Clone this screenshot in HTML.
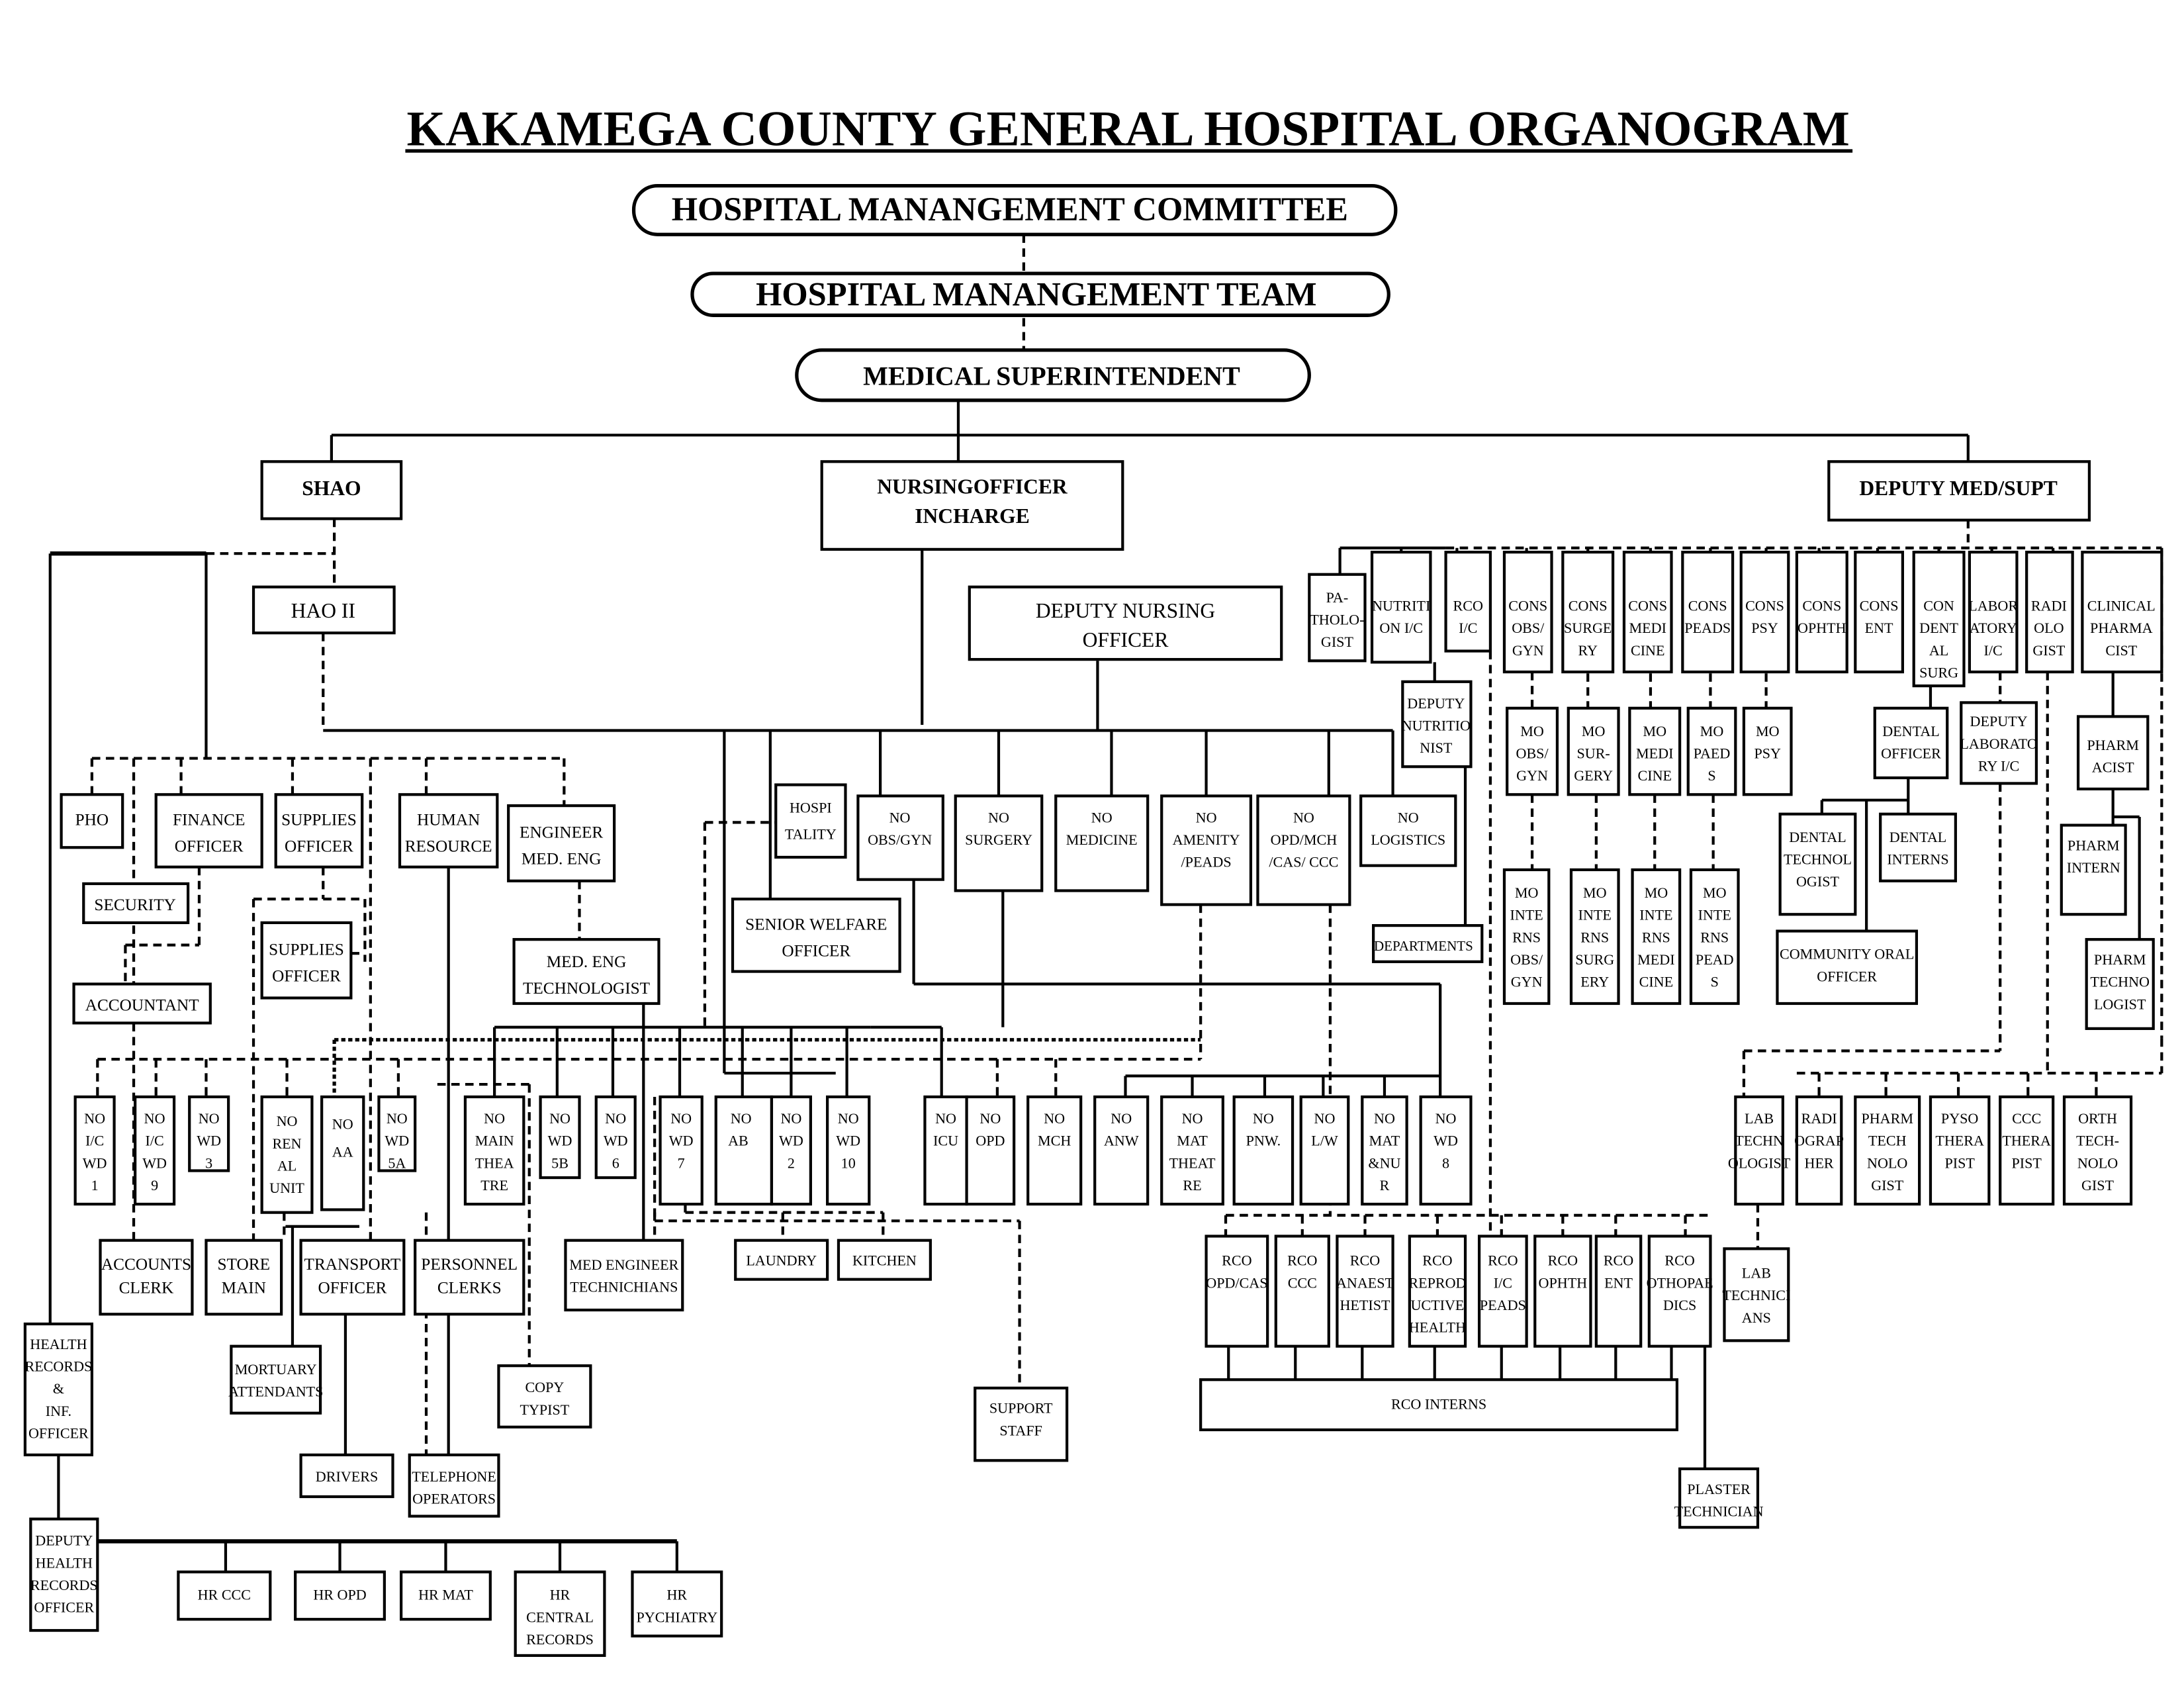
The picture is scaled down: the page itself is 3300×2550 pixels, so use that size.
<!DOCTYPE html>
<html><head><meta charset="utf-8"><style>
html,body{margin:0;padding:0;background:#fff;}
svg{display:block;}
text{font-family:"Liberation Serif",serif;fill:#000;}
.b rect{fill:#fff;stroke:#000;stroke-width:2;}
.b text{text-anchor:middle;}
.s{stroke:#000;stroke-width:2;fill:none;}
.d{stroke:#000;stroke-width:2;fill:none;stroke-dasharray:6,4;}
.t{stroke:#000;stroke-width:2.5;fill:none;stroke-dasharray:3,2;}
</style></head><body>
<svg width="3300" height="2550" viewBox="0 0 1568 1211" xmlns="http://www.w3.org/2000/svg">
<rect width="1568" height="1211" fill="#fff"/>
<text x="810" y="104" font-size="35.5" font-weight="bold" text-anchor="middle" textLength="1036" lengthAdjust="spacingAndGlyphs">KAKAMEGA COUNTY GENERAL HOSPITAL ORGANOGRAM</text>
<line x1="291" y1="108" x2="1330" y2="108" stroke="#000" stroke-width="2.5"/>

<!-- connectors -->
<g class="d"><line x1="735" y1="168" x2="735" y2="251"/></g>
<g class="s">
<line x1="688" y1="287" x2="688" y2="312"/>
<line x1="238" y1="312" x2="1413" y2="312"/>
<line x1="238" y1="312" x2="238" y2="331"/>
<line x1="688" y1="312" x2="688" y2="331"/>
<line x1="1413" y1="312" x2="1413" y2="331"/>
<line x1="36" y1="397" x2="148" y2="397" stroke-width="3"/>
<line x1="36" y1="397" x2="36" y2="950"/>
<line x1="148" y1="397" x2="148" y2="544"/>
<line x1="662" y1="394" x2="662" y2="520"/>
<line x1="788" y1="474" x2="788" y2="524"/>
<line x1="232" y1="524" x2="1000" y2="524"/>
<line x1="520" y1="524" x2="520" y2="770"/>
<line x1="553" y1="524" x2="553" y2="645"/>
<line x1="632" y1="524" x2="632" y2="571"/>
<line x1="717" y1="524" x2="717" y2="571"/>
<line x1="798" y1="524" x2="798" y2="571"/>
<line x1="866" y1="524" x2="866" y2="571"/>
<line x1="954" y1="524" x2="954" y2="571"/>
<line x1="1000" y1="524" x2="1000" y2="571"/>
<line x1="1052" y1="550" x2="1052" y2="664"/>
<line x1="1030" y1="475" x2="1030" y2="489"/>
<line x1="322" y1="622" x2="322" y2="890"/>
<line x1="462" y1="720" x2="462" y2="890"/>
<line x1="355" y1="737" x2="625" y2="737"/>
<line x1="355" y1="737" x2="355" y2="787"/>
<line x1="400" y1="737" x2="400" y2="787"/>
<line x1="440" y1="737" x2="440" y2="787"/>
<line x1="488" y1="737" x2="488" y2="787"/>
<line x1="533" y1="737" x2="533" y2="787"/>
<line x1="568" y1="737" x2="568" y2="787"/>
<line x1="608" y1="737" x2="608" y2="787"/>
<line x1="676" y1="737" x2="676" y2="787"/>
<line x1="625" y1="737" x2="676" y2="737"/>
<line x1="720" y1="639" x2="720" y2="737"/>
<line x1="520" y1="770" x2="600" y2="770"/>
<line x1="656" y1="631" x2="656" y2="706"/>
<line x1="656" y1="706" x2="1034" y2="706"/>
<line x1="1034" y1="706" x2="1034" y2="787"/>
<line x1="808" y1="772" x2="1034" y2="772"/>
<line x1="808" y1="772" x2="808" y2="787"/>
<line x1="856" y1="772" x2="856" y2="787"/>
<line x1="908" y1="772" x2="908" y2="787"/>
<line x1="950" y1="772" x2="950" y2="787"/>
<line x1="994" y1="772" x2="994" y2="787"/>
<line x1="962" y1="393" x2="1038" y2="393"/>
<line x1="962" y1="393" x2="962" y2="412"/>
<line x1="1006" y1="393" x2="1006" y2="396"/>
<line x1="1046" y1="393" x2="1046" y2="396"/>
<line x1="1096" y1="393" x2="1096" y2="396"/>
<line x1="1386" y1="482" x2="1386" y2="508"/>
<line x1="1370" y1="558" x2="1370" y2="574"/>
<line x1="1308" y1="574" x2="1370" y2="574"/>
<line x1="1308" y1="574" x2="1308" y2="584"/>
<line x1="1340" y1="574" x2="1340" y2="668"/>
<line x1="1370" y1="574" x2="1370" y2="584"/>
<line x1="1517" y1="482" x2="1517" y2="514"/>
<line x1="1517" y1="566" x2="1517" y2="592"/>
<line x1="1517" y1="586" x2="1536" y2="586"/>
<line x1="1536" y1="586" x2="1536" y2="674"/>
<line x1="1224" y1="966" x2="1224" y2="1054"/>
<line x1="882" y1="966" x2="882" y2="990"/>
<line x1="930" y1="966" x2="930" y2="990"/>
<line x1="978" y1="966" x2="978" y2="990"/>
<line x1="1030" y1="966" x2="1030" y2="990"/>
<line x1="1078" y1="966" x2="1078" y2="990"/>
<line x1="1120" y1="966" x2="1120" y2="990"/>
<line x1="1160" y1="966" x2="1160" y2="990"/>
<line x1="1200" y1="966" x2="1200" y2="990"/>
<line x1="42" y1="1044" x2="42" y2="1090"/>
<line x1="70" y1="1106" x2="486" y2="1106" stroke-width="3"/>
<line x1="162" y1="1106" x2="162" y2="1128"/>
<line x1="244" y1="1106" x2="244" y2="1128"/>
<line x1="320" y1="1106" x2="320" y2="1128"/>
<line x1="402" y1="1106" x2="402" y2="1128"/>
<line x1="486" y1="1106" x2="486" y2="1128"/>
<line x1="210" y1="880" x2="210" y2="966"/>
<line x1="248" y1="943" x2="248" y2="1044"/>
<line x1="322" y1="943" x2="322" y2="1044"/>
<line x1="205" y1="880" x2="258" y2="880"/>
</g>
<g class="d">
<line x1="240" y1="372" x2="240" y2="421"/>
<line x1="148" y1="397" x2="240" y2="397"/>
<line x1="232" y1="454" x2="232" y2="524"/>
<line x1="66" y1="544" x2="405" y2="544"/>
<line x1="66" y1="544" x2="66" y2="570"/>
<line x1="96" y1="544" x2="96" y2="890"/>
<line x1="130" y1="544" x2="130" y2="570"/>
<line x1="210" y1="544" x2="210" y2="570"/>
<line x1="266" y1="544" x2="266" y2="890"/>
<line x1="306" y1="544" x2="306" y2="570"/>
<line x1="405" y1="544" x2="405" y2="578"/>
<line x1="232" y1="622" x2="232" y2="645"/>
<line x1="182" y1="645" x2="262" y2="645"/>
<line x1="262" y1="645" x2="262" y2="690"/>
<line x1="252" y1="684" x2="262" y2="684"/>
<line x1="182" y1="645" x2="182" y2="890"/>
<line x1="143" y1="622" x2="143" y2="678"/>
<line x1="90" y1="678" x2="143" y2="678"/>
<line x1="90" y1="678" x2="90" y2="706"/>
<line x1="416" y1="632" x2="416" y2="674"/>
<line x1="1413" y1="373" x2="1413" y2="393"/>
<line x1="1038" y1="393" x2="1552" y2="393"/>
<line x1="1552" y1="393" x2="1552" y2="745"/>
<line x1="1070" y1="467" x2="1070" y2="887"/>
<line x1="1100" y1="482" x2="1100" y2="508"/>
<line x1="1140" y1="393" x2="1140" y2="508"/>
<line x1="1185" y1="393" x2="1185" y2="508"/>
<line x1="1228" y1="393" x2="1228" y2="508"/>
<line x1="1268" y1="393" x2="1268" y2="508"/>
<line x1="1306" y1="393" x2="1306" y2="396"/>
<line x1="1348" y1="393" x2="1348" y2="396"/>
<line x1="1392" y1="393" x2="1392" y2="396"/>
<line x1="1430" y1="393" x2="1430" y2="396"/>
<line x1="1474" y1="393" x2="1474" y2="396"/>
<line x1="1100" y1="570" x2="1100" y2="624"/>
<line x1="1146" y1="570" x2="1146" y2="624"/>
<line x1="1188" y1="570" x2="1188" y2="624"/>
<line x1="1230" y1="570" x2="1230" y2="624"/>
<line x1="1436" y1="482" x2="1436" y2="504"/>
<line x1="1436" y1="562" x2="1436" y2="754"/>
<line x1="1470" y1="482" x2="1470" y2="770"/>
<line x1="1252" y1="754" x2="1436" y2="754"/>
<line x1="1252" y1="754" x2="1252" y2="787"/>
<line x1="1290" y1="770" x2="1552" y2="770"/>
<line x1="1552" y1="745" x2="1552" y2="770"/>
<line x1="1306" y1="770" x2="1306" y2="787"/>
<line x1="1354" y1="770" x2="1354" y2="787"/>
<line x1="1406" y1="770" x2="1406" y2="787"/>
<line x1="1456" y1="770" x2="1456" y2="787"/>
<line x1="1505" y1="770" x2="1505" y2="787"/>
<line x1="1262" y1="864" x2="1262" y2="896"/>
<line x1="955" y1="649" x2="955" y2="872"/>
<line x1="880" y1="872" x2="1228" y2="872"/>
<line x1="880" y1="872" x2="880" y2="887"/>
<line x1="935" y1="872" x2="935" y2="887"/>
<line x1="980" y1="872" x2="980" y2="887"/>
<line x1="1032" y1="872" x2="1032" y2="887"/>
<line x1="1078" y1="872" x2="1078" y2="887"/>
<line x1="1122" y1="872" x2="1122" y2="887"/>
<line x1="1160" y1="872" x2="1160" y2="887"/>
<line x1="1210" y1="872" x2="1210" y2="887"/>
<line x1="862" y1="649" x2="862" y2="760"/>
<line x1="70" y1="760" x2="862" y2="760"/>
<line x1="70" y1="760" x2="70" y2="787"/>
<line x1="112" y1="760" x2="112" y2="787"/>
<line x1="148" y1="760" x2="148" y2="787"/>
<line x1="206" y1="760" x2="206" y2="787"/>
<line x1="286" y1="760" x2="286" y2="787"/>
<line x1="306" y1="870" x2="306" y2="1044"/>
<line x1="204" y1="870" x2="204" y2="890"/>
<line x1="314" y1="778" x2="380" y2="778"/>
<line x1="380" y1="778" x2="380" y2="980"/>
<line x1="470" y1="870" x2="470" y2="890"/>
<line x1="470" y1="876" x2="732" y2="876"/>
<line x1="732" y1="876" x2="732" y2="996"/>
<line x1="470" y1="787" x2="470" y2="876"/>
<line x1="492" y1="870" x2="634" y2="870"/>
<line x1="562" y1="870" x2="562" y2="890"/>
<line x1="634" y1="870" x2="634" y2="890"/>
<line x1="492" y1="864" x2="492" y2="870"/>
<line x1="506" y1="590" x2="557" y2="590"/>
<line x1="506" y1="590" x2="506" y2="737"/>
<line x1="716" y1="760" x2="716" y2="787"/>
<line x1="758" y1="760" x2="758" y2="787"/>
</g>
<g class="t">
<line x1="240" y1="746" x2="862" y2="746"/>
<line x1="240" y1="746" x2="240" y2="787"/>
</g>

<!-- rounded -->
<g fill="#fff" stroke="#000" stroke-width="2.5">
<rect x="455" y="133" width="547" height="35" rx="17"/>
<rect x="497" y="196" width="500" height="30" rx="15"/>
<rect x="572" y="251" width="368" height="36" rx="18"/>
</g>
<g font-weight="bold" text-anchor="middle">
<text x="725" y="158" font-size="24">HOSPITAL MANANGEMENT COMMITTEE</text>
<text x="744" y="219" font-size="24">HOSPITAL MANANGEMENT TEAM</text>
<text x="755" y="276" font-size="19">MEDICAL SUPERINTENDENT</text>
</g>

<g class="b" font-size="10.5">
<rect x="188" y="331" width="100" height="41"/><text x="238" y="355" font-size="15" font-weight="bold">SHAO</text>
<rect x="590" y="331" width="216" height="63"/><text x="698" y="354" font-size="15" font-weight="bold">NURSINGOFFICER</text><text x="698" y="375" font-size="15" font-weight="bold">INCHARGE</text>
<rect x="1313" y="331" width="187" height="42"/><text x="1406" y="355" font-size="15" font-weight="bold">DEPUTY MED/SUPT</text>
<rect x="182" y="421" width="101" height="33"/><text x="232" y="443" font-size="15">HAO II</text>
<rect x="696" y="421" width="224" height="52"/><text x="808" y="443" font-size="15">DEPUTY NURSING</text><text x="808" y="464" font-size="15">OFFICER</text>

<rect x="44" y="570" width="44" height="38"/><text x="66" y="592" font-size="12">PHO</text>
<rect x="112" y="570" width="76" height="52"/><text x="150" y="592" font-size="12">FINANCE</text><text x="150" y="611" font-size="12">OFFICER</text>
<rect x="198" y="570" width="62" height="52"/><text x="229" y="592" font-size="12">SUPPLIES</text><text x="229" y="611" font-size="12">OFFICER</text>
<rect x="287" y="570" width="70" height="52"/><text x="322" y="592" font-size="12">HUMAN</text><text x="322" y="611" font-size="12">RESOURCE</text>
<rect x="365" y="578" width="76" height="54"/><text x="403" y="601" font-size="12">ENGINEER</text><text x="403" y="620" font-size="12">MED. ENG</text>
<rect x="60" y="634" width="75" height="28"/><text x="97" y="653" font-size="12">SECURITY</text>
<rect x="188" y="662" width="64" height="54"/><text x="220" y="685" font-size="12">SUPPLIES</text><text x="220" y="704" font-size="12">OFFICER</text>
<rect x="53" y="706" width="98" height="28"/><text x="102" y="725" font-size="12">ACCOUNTANT</text>
<rect x="369" y="674" width="104" height="46"/><text x="421" y="694" font-size="12">MED. ENG</text><text x="421" y="713" font-size="12">TECHNOLOGIST</text>
<rect x="557" y="563" width="50" height="52"/><text x="582" y="583">HOSPI</text><text x="582" y="602">TALITY</text>
<rect x="526" y="645" width="120" height="52"/><text x="586" y="667" font-size="12">SENIOR WELFARE</text><text x="586" y="686" font-size="12">OFFICER</text>
<rect x="616" y="571" width="61" height="60"/><text x="646" y="590">NO</text><text x="646" y="606">OBS/GYN</text>
<rect x="686" y="571" width="62" height="68"/><text x="717" y="590">NO</text><text x="717" y="606">SURGERY</text>
<rect x="758" y="571" width="66" height="68"/><text x="791" y="590">NO</text><text x="791" y="606">MEDICINE</text>
<rect x="834" y="571" width="64" height="78"/><text x="866" y="590">NO</text><text x="866" y="606">AMENITY</text><text x="866" y="622">/PEADS</text>
<rect x="903" y="571" width="66" height="78"/><text x="936" y="590">NO</text><text x="936" y="606">OPD/MCH</text><text x="936" y="622">/CAS/ CCC</text>
<rect x="977" y="571" width="68" height="50"/><text x="1011" y="590">NO</text><text x="1011" y="606">LOGISTICS</text>
<rect x="986" y="664" width="78" height="26"/><text x="1022" y="682" font-size="10">DEPARTMENTS</text>

<rect x="940" y="412" width="40" height="62"/><text x="960" y="432">PA-</text><text x="960" y="448">THOLO-</text><text x="960" y="464">GIST</text>
<rect x="985" y="396" width="42" height="79"/><text x="1006" y="438">NUTRITI</text><text x="1006" y="454">ON I/C</text>
<rect x="1038" y="396" width="32" height="71"/><text x="1054" y="438">RCO</text><text x="1054" y="454">I/C</text>
<rect x="1080" y="396" width="34" height="86"/><text x="1097" y="438">CONS</text><text x="1097" y="454">OBS/</text><text x="1097" y="470">GYN</text>
<rect x="1122" y="396" width="36" height="86"/><text x="1140" y="438">CONS</text><text x="1140" y="454">SURGE</text><text x="1140" y="470">RY</text>
<rect x="1166" y="396" width="34" height="86"/><text x="1183" y="438">CONS</text><text x="1183" y="454">MEDI</text><text x="1183" y="470">CINE</text>
<rect x="1208" y="396" width="36" height="86"/><text x="1226" y="438">CONS</text><text x="1226" y="454">PEADS</text>
<rect x="1250" y="396" width="34" height="86"/><text x="1267" y="438">CONS</text><text x="1267" y="454">PSY</text>
<rect x="1290" y="396" width="36" height="86"/><text x="1308" y="438">CONS</text><text x="1308" y="454">OPHTH</text>
<rect x="1332" y="396" width="34" height="86"/><text x="1349" y="438">CONS</text><text x="1349" y="454">ENT</text>
<rect x="1374" y="396" width="36" height="96"/><text x="1392" y="438">CON</text><text x="1392" y="454">DENT</text><text x="1392" y="470">AL</text><text x="1392" y="486">SURG</text>
<rect x="1414" y="396" width="34" height="86"/><text x="1431" y="438">LABOR</text><text x="1431" y="454">ATORY</text><text x="1431" y="470">I/C</text>
<rect x="1455" y="396" width="33" height="86"/><text x="1471" y="438">RADI</text><text x="1471" y="454">OLO</text><text x="1471" y="470">GIST</text>
<rect x="1495" y="396" width="57" height="86"/><text x="1523" y="438">CLINICAL</text><text x="1523" y="454">PHARMA</text><text x="1523" y="470">CIST</text>
<rect x="1007" y="489" width="49" height="61"/><text x="1031" y="508">DEPUTY</text><text x="1031" y="524">NUTRITIO</text><text x="1031" y="540">NIST</text>
<rect x="1082" y="508" width="36" height="62"/><text x="1100" y="528">MO</text><text x="1100" y="544">OBS/</text><text x="1100" y="560">GYN</text>
<rect x="1126" y="508" width="36" height="62"/><text x="1144" y="528">MO</text><text x="1144" y="544">SUR-</text><text x="1144" y="560">GERY</text>
<rect x="1170" y="508" width="36" height="62"/><text x="1188" y="528">MO</text><text x="1188" y="544">MEDI</text><text x="1188" y="560">CINE</text>
<rect x="1212" y="508" width="34" height="62"/><text x="1229" y="528">MO</text><text x="1229" y="544">PAED</text><text x="1229" y="560">S</text>
<rect x="1252" y="508" width="34" height="62"/><text x="1269" y="528">MO</text><text x="1269" y="544">PSY</text>
<rect x="1080" y="624" width="32" height="96"/><text x="1096" y="644">MO</text><text x="1096" y="660">INTE</text><text x="1096" y="676">RNS</text><text x="1096" y="692">OBS/</text><text x="1096" y="708">GYN</text>
<rect x="1128" y="624" width="34" height="96"/><text x="1145" y="644">MO</text><text x="1145" y="660">INTE</text><text x="1145" y="676">RNS</text><text x="1145" y="692">SURG</text><text x="1145" y="708">ERY</text>
<rect x="1172" y="624" width="34" height="96"/><text x="1189" y="644">MO</text><text x="1189" y="660">INTE</text><text x="1189" y="676">RNS</text><text x="1189" y="692">MEDI</text><text x="1189" y="708">CINE</text>
<rect x="1214" y="624" width="34" height="96"/><text x="1231" y="644">MO</text><text x="1231" y="660">INTE</text><text x="1231" y="676">RNS</text><text x="1231" y="692">PEAD</text><text x="1231" y="708">S</text>
<rect x="1346" y="508" width="52" height="50"/><text x="1372" y="528">DENTAL</text><text x="1372" y="544">OFFICER</text>
<rect x="1408" y="504" width="54" height="58"/><text x="1435" y="521">DEPUTY</text><text x="1435" y="537">LABORATO</text><text x="1435" y="553">RY I/C</text>
<rect x="1492" y="514" width="50" height="52"/><text x="1517" y="538">PHARM</text><text x="1517" y="554">ACIST</text>
<rect x="1278" y="584" width="54" height="72"/><text x="1305" y="604">DENTAL</text><text x="1305" y="620">TECHNOL</text><text x="1305" y="636">OGIST</text>
<rect x="1350" y="584" width="54" height="48"/><text x="1377" y="604">DENTAL</text><text x="1377" y="620">INTERNS</text>
<rect x="1480" y="592" width="46" height="64"/><text x="1503" y="610">PHARM</text><text x="1503" y="626">INTERN</text>
<rect x="1276" y="668" width="100" height="52"/><text x="1326" y="688">COMMUNITY ORAL</text><text x="1326" y="704">OFFICER</text>
<rect x="1498" y="674" width="48" height="64"/><text x="1522" y="692">PHARM</text><text x="1522" y="708">TECHNO</text><text x="1522" y="724">LOGIST</text>

<!-- NO wards -->
<rect x="54" y="787" width="28" height="77"/><text x="68" y="806">NO</text><text x="68" y="822">I/C</text><text x="68" y="838">WD</text><text x="68" y="854">1</text>
<rect x="97" y="787" width="28" height="77"/><text x="111" y="806">NO</text><text x="111" y="822">I/C</text><text x="111" y="838">WD</text><text x="111" y="854">9</text>
<rect x="136" y="787" width="28" height="53"/><text x="150" y="806">NO</text><text x="150" y="822">WD</text><text x="150" y="838">3</text>
<rect x="188" y="787" width="36" height="83"/><text x="206" y="808">NO</text><text x="206" y="824">REN</text><text x="206" y="840">AL</text><text x="206" y="856">UNIT</text>
<rect x="231" y="787" width="30" height="81"/><text x="246" y="810">NO</text><text x="246" y="830">AA</text>
<rect x="272" y="787" width="26" height="53"/><text x="285" y="806">NO</text><text x="285" y="822">WD</text><text x="285" y="838">5A</text>
<rect x="334" y="787" width="42" height="77"/><text x="355" y="806">NO</text><text x="355" y="822">MAIN</text><text x="355" y="838">THEA</text><text x="355" y="854">TRE</text>
<rect x="388" y="787" width="28" height="58"/><text x="402" y="806">NO</text><text x="402" y="822">WD</text><text x="402" y="838">5B</text>
<rect x="428" y="787" width="28" height="58"/><text x="442" y="806">NO</text><text x="442" y="822">WD</text><text x="442" y="838">6</text>
<rect x="474" y="787" width="30" height="77"/><text x="489" y="806">NO</text><text x="489" y="822">WD</text><text x="489" y="838">7</text>
<rect x="514" y="787" width="40" height="77"/><text x="532" y="806">NO</text><text x="530" y="822">AB</text>
<rect x="554" y="787" width="28" height="77"/><text x="568" y="806">NO</text><text x="568" y="822">WD</text><text x="568" y="838">2</text>
<rect x="594" y="787" width="30" height="77"/><text x="609" y="806">NO</text><text x="609" y="822">WD</text><text x="609" y="838">10</text>
<rect x="664" y="787" width="30" height="77"/><text x="679" y="806">NO</text><text x="679" y="822">ICU</text>
<rect x="694" y="787" width="34" height="77"/><text x="711" y="806">NO</text><text x="711" y="822">OPD</text>
<rect x="738" y="787" width="38" height="77"/><text x="757" y="806">NO</text><text x="757" y="822">MCH</text>
<rect x="786" y="787" width="38" height="77"/><text x="805" y="806">NO</text><text x="805" y="822">ANW</text>
<rect x="834" y="787" width="44" height="77"/><text x="856" y="806">NO</text><text x="856" y="822">MAT</text><text x="856" y="838">THEAT</text><text x="856" y="854">RE</text>
<rect x="886" y="787" width="42" height="77"/><text x="907" y="806">NO</text><text x="907" y="822">PNW.</text>
<rect x="934" y="787" width="34" height="77"/><text x="951" y="806">NO</text><text x="951" y="822">L/W</text>
<rect x="978" y="787" width="32" height="77"/><text x="994" y="806">NO</text><text x="994" y="822">MAT</text><text x="994" y="838">&amp;NU</text><text x="994" y="854">R</text>
<rect x="1020" y="787" width="36" height="77"/><text x="1038" y="806">NO</text><text x="1038" y="822">WD</text><text x="1038" y="838">8</text>

<rect x="1246" y="787" width="34" height="77"/><text x="1263" y="806">LAB</text><text x="1263" y="822">TECHN</text><text x="1263" y="838">OLOGIST</text>
<rect x="1290" y="787" width="32" height="77"/><text x="1306" y="806">RADI</text><text x="1306" y="822">OGRAP</text><text x="1306" y="838">HER</text>
<rect x="1332" y="787" width="46" height="77"/><text x="1355" y="806">PHARM</text><text x="1355" y="822">TECH</text><text x="1355" y="838">NOLO</text><text x="1355" y="854">GIST</text>
<rect x="1386" y="787" width="42" height="77"/><text x="1407" y="806">PYSO</text><text x="1407" y="822">THERA</text><text x="1407" y="838">PIST</text>
<rect x="1436" y="787" width="38" height="77"/><text x="1455" y="806">CCC</text><text x="1455" y="822">THERA</text><text x="1455" y="838">PIST</text>
<rect x="1482" y="787" width="48" height="77"/><text x="1506" y="806">ORTH</text><text x="1506" y="822">TECH-</text><text x="1506" y="838">NOLO</text><text x="1506" y="854">GIST</text>
<rect x="1238" y="896" width="46" height="66"/><text x="1261" y="917">LAB</text><text x="1261" y="933">TECHNICI</text><text x="1261" y="949">ANS</text>

<rect x="866" y="887" width="44" height="79"/><text x="888" y="908">RCO</text><text x="888" y="924">OPD/CAS</text>
<rect x="916" y="887" width="38" height="79"/><text x="935" y="908">RCO</text><text x="935" y="924">CCC</text>
<rect x="960" y="887" width="40" height="79"/><text x="980" y="908">RCO</text><text x="980" y="924">ANAEST</text><text x="980" y="940">HETIST</text>
<rect x="1012" y="887" width="40" height="79"/><text x="1032" y="908">RCO</text><text x="1032" y="924">REPROD</text><text x="1032" y="940">UCTIVE</text><text x="1032" y="956">HEALTH</text>
<rect x="1062" y="887" width="34" height="79"/><text x="1079" y="908">RCO</text><text x="1079" y="924">I/C</text><text x="1079" y="940">PEADS</text>
<rect x="1102" y="887" width="40" height="79"/><text x="1122" y="908">RCO</text><text x="1122" y="924">OPHTH</text>
<rect x="1146" y="887" width="32" height="79"/><text x="1162" y="908">RCO</text><text x="1162" y="924">ENT</text>
<rect x="1184" y="887" width="44" height="79"/><text x="1206" y="908">RCO</text><text x="1206" y="924">OTHOPAE</text><text x="1206" y="940">DICS</text>
<rect x="862" y="990" width="342" height="36"/><text x="1033" y="1011">RCO INTERNS</text>
<rect x="1206" y="1054" width="56" height="42"/><text x="1234" y="1072">PLASTER</text><text x="1234" y="1088">TECHNICIAN</text>

<rect x="72" y="890" width="66" height="53"/><text x="105" y="911" font-size="12">ACCOUNTS</text><text x="105" y="928" font-size="12">CLERK</text>
<rect x="148" y="890" width="54" height="53"/><text x="175" y="911" font-size="12">STORE</text><text x="175" y="928" font-size="12">MAIN</text>
<rect x="216" y="890" width="74" height="53"/><text x="253" y="911" font-size="12">TRANSPORT</text><text x="253" y="928" font-size="12">OFFICER</text>
<rect x="298" y="890" width="78" height="53"/><text x="337" y="911" font-size="12">PERSONNEL</text><text x="337" y="928" font-size="12">CLERKS</text>
<rect x="406" y="890" width="84" height="50"/><text x="448" y="911">MED ENGINEER</text><text x="448" y="927">TECHNICHIANS</text>
<rect x="528" y="890" width="66" height="28"/><text x="561" y="908">LAUNDRY</text>
<rect x="602" y="890" width="66" height="28"/><text x="635" y="908">KITCHEN</text>
<rect x="18" y="950" width="48" height="94"/><text x="42" y="968">HEALTH</text><text x="42" y="984">RECORDS</text><text x="42" y="1000">&amp;</text><text x="42" y="1016">INF.</text><text x="42" y="1032">OFFICER</text>
<rect x="166" y="966" width="64" height="48"/><text x="198" y="986">MORTUARY</text><text x="198" y="1002">ATTENDANTS</text>
<rect x="358" y="980" width="66" height="44"/><text x="391" y="999">COPY</text><text x="391" y="1015">TYPIST</text>
<rect x="700" y="996" width="66" height="52"/><text x="733" y="1014">SUPPORT</text><text x="733" y="1030">STAFF</text>
<rect x="216" y="1044" width="66" height="30"/><text x="249" y="1063">DRIVERS</text>
<rect x="294" y="1044" width="64" height="44"/><text x="326" y="1063">TELEPHONE</text><text x="326" y="1079">OPERATORS</text>
<rect x="22" y="1090" width="48" height="80"/><text x="46" y="1109">DEPUTY</text><text x="46" y="1125">HEALTH</text><text x="46" y="1141">RECORDS</text><text x="46" y="1157">OFFICER</text>
<rect x="128" y="1128" width="66" height="34"/><text x="161" y="1148">HR CCC</text>
<rect x="212" y="1128" width="64" height="34"/><text x="244" y="1148">HR OPD</text>
<rect x="288" y="1128" width="64" height="34"/><text x="320" y="1148">HR MAT</text>
<rect x="370" y="1128" width="64" height="60"/><text x="402" y="1148">HR</text><text x="402" y="1164">CENTRAL</text><text x="402" y="1180">RECORDS</text>
<rect x="454" y="1128" width="64" height="46"/><text x="486" y="1148">HR</text><text x="486" y="1164">PYCHIATRY</text>
</g>
</svg>
</body></html>
